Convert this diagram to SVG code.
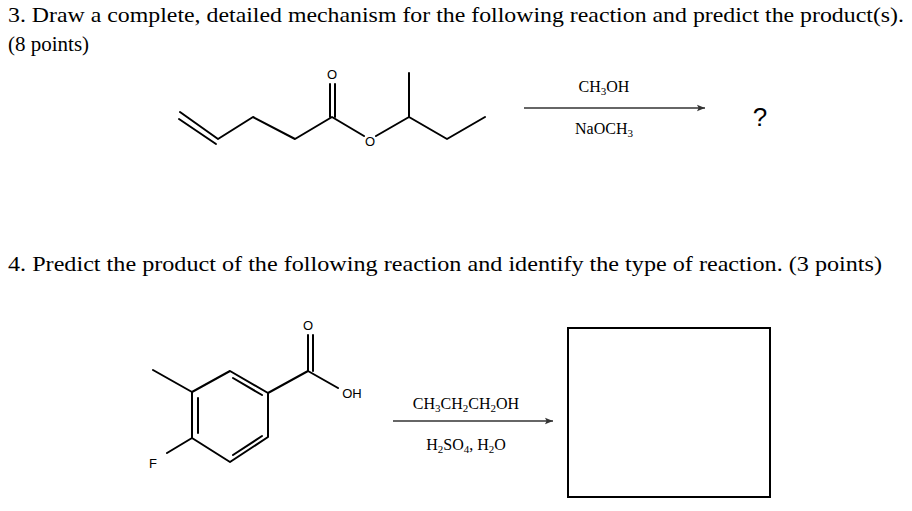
<svg xmlns="http://www.w3.org/2000/svg" width="912" height="511" viewBox="0 0 912 511">
<style>
.b{stroke:#000;stroke-width:2;fill:none;stroke-linecap:round;stroke-linejoin:round}
.h{font-family:"Liberation Serif",serif;font-size:21px;fill:#000}
.r{font-family:"Liberation Serif",serif;font-size:16px;fill:#000}
.a{font-family:"Liberation Sans",sans-serif;font-size:13px;fill:#000}
</style>
<defs><marker id="ar" viewBox="0 0 10 10" refX="10" refY="5" markerWidth="10" markerHeight="8" markerUnits="userSpaceOnUse" orient="auto"><path d="M0,1 L10,5 L0,9 L2,5 Z" fill="#333"/></marker></defs>
<rect width="912" height="511" fill="#fff"/>
<text class="h" x="8" y="22" textLength="896" lengthAdjust="spacingAndGlyphs">3. Draw a complete, detailed mechanism for the following reaction and predict the product(s).</text>
<text class="h" x="8" y="51">(8 points)</text>
<text class="h" x="8" y="271" textLength="874" lengthAdjust="spacingAndGlyphs">4. Predict the product of the following reaction and identify the type of reaction. (3 points)</text>
<g id="ester">
<path class="b" d="M180,112 L218,139 L253,117 L295,139 L332,117 L364,136 M376,136 L409,117 L447,139 L485,117 M409,117 L409,73"/>
<path class="b" d="M179,119 L216,144"/>
<path class="b" d="M330,117 L330,84 M335,117 L335,84"/>
<text class="a" x="332" y="79" text-anchor="middle">O</text>
<text class="a" x="370" y="146" text-anchor="middle">O</text>
</g>
<g id="acid">
<path class="b" d="M192,392 L230,371 L268,393 L268,437 L230,462 L192,438 Z M153,370 L192,392 M192,438 L167,453 M268,393 L308,371 L308,335 M308,371 L338,388"/>
<path class="b" d="M313,371 L313,335 M233,378 L262,395 M198,398 L198,433 M233,455 L262,436"/>
<text class="a" x="308" y="330" text-anchor="middle">O</text>
<text class="a" x="352" y="398" text-anchor="middle">OH</text>
<text class="a" x="153" y="468" text-anchor="middle">F</text>
</g>
<g id="connectors">
<line x1="524" y1="108" x2="705" y2="108" stroke="#333" stroke-width="1.5" marker-end="url(#ar)"/>
<line x1="393" y1="421" x2="553" y2="421" stroke="#333" stroke-width="1.5" marker-end="url(#ar)"/>
</g>
<text class="r" x="604" y="92" text-anchor="middle">CH<tspan font-size="11" dy="3">3</tspan><tspan dy="-3">OH</tspan></text>
<text class="r" x="604" y="134" text-anchor="middle">NaOCH<tspan font-size="11" dy="3">3</tspan></text>
<text x="760" y="126" text-anchor="middle" font-family="Liberation Sans,sans-serif" font-size="26" fill="#000">?</text>
<text class="r" x="466" y="409" text-anchor="middle">CH<tspan font-size="11" dy="3">3</tspan><tspan dy="-3">CH</tspan><tspan font-size="11" dy="3">2</tspan><tspan dy="-3">CH</tspan><tspan font-size="11" dy="3">2</tspan><tspan dy="-3">OH</tspan></text>
<text class="r" x="466" y="450" text-anchor="middle">H<tspan font-size="11" dy="3">2</tspan><tspan dy="-3">SO</tspan><tspan font-size="11" dy="3">4</tspan><tspan dy="-3">, H</tspan><tspan font-size="11" dy="3">2</tspan><tspan dy="-3">O</tspan></text>
<rect id="answerbox" x="568" y="328" width="202" height="169" fill="none" stroke="#000" stroke-width="2"/>
</svg>
